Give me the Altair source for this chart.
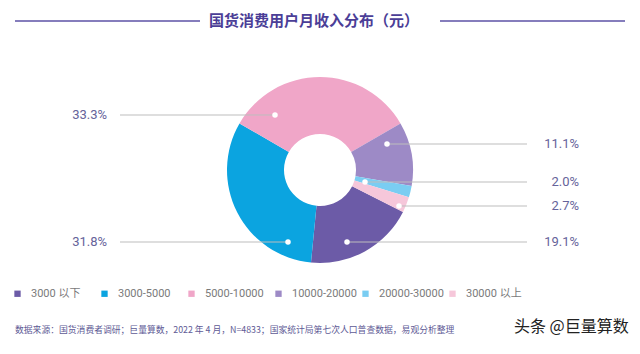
import math
import altair as alt
import pandas as pd

# ---- data ----
categories = ["3000 以下", "3000-5000", "5000-10000", "10000-20000", "20000-30000", "30000 以上"]
shares = [19.1, 31.8, 33.3, 11.1, 2.0, 2.7]
colors = ["#6C5BA7", "#0BA4E0", "#F0A6C8", "#9D8AC6", "#7ACDF2", "#F6C7DA"]

title_text = "国货消费用户月收入分布（元）"
source_text = "数据来源：国货消费者调研；巨量算数，2022 年 4 月，N=4833；国家统计局第七次人口普查数据，易观分析整理"
watermark_text = "头条 @巨量算数"

# ---- layout (annotation placement) ----
label_y = [242, 242, 115, 144, 182, 206]
dot_x = [347, 288, 275, 387, 365, 399]
label_side = ["right", "left", "left", "right", "right", "right"]

W, H = 640, 354
CX, CY = 320, 170
R_OUT, R_IN = 93, 36
START = math.radians(116.8)
FONT = "Roboto, 'Noto Sans CJK SC', sans-serif"
CJK = "'Noto Sans CJK SC', sans-serif"

df = pd.DataFrame({"cat": categories, "share": shares, "idx": list(range(len(categories)))})

ann = pd.DataFrame({
    "cat": categories,
    "label": [f"{s:.1f}%" for s in shares],
    "y": label_y,
    "dx": dot_x,
    "x_end": [527 if s == "right" else 120 for s in label_side],
    "tx": [579 if s == "right" else 107 for s in label_side],
})

xs = alt.Scale(domain=[0, W], range=[0, W], nice=False, zero=False)
ys = alt.Scale(domain=[0, H], range=[0, H], nice=False, zero=False)

arcs = alt.Chart(df).mark_arc(outerRadius=R_OUT, innerRadius=R_IN).encode(
    theta=alt.Theta("share:Q", stack=True,
                    scale=alt.Scale(domain=[0, sum(shares)], range=[START, START + 2 * math.pi])),
    color=alt.Color("cat:N", sort=categories,
                    scale=alt.Scale(domain=categories, range=colors),
                    legend=alt.Legend(title=None, orient="none", legendX=12, legendY=288,
                                      direction="horizontal", columns=6, gridAlign="all",
                                      columnPadding=3, symbolType="square", symbolSize=40,
                                      symbolStrokeWidth=0, symbolOpacity=1,
                                      labelFontSize=11, labelColor="#7a7a7a",
                                      labelFont=FONT, labelOffset=8)),
    order=alt.Order("idx:Q"),
    x=alt.value(CX),
    y=alt.value(CY),
)

rules = alt.Chart(ann).mark_rule(color="#BDBDBD", strokeWidth=1).encode(
    x=alt.X("dx:Q", scale=xs, axis=None),
    x2="x_end:Q",
    y=alt.Y("y:Q", scale=ys, axis=None),
)

dots = alt.Chart(ann).mark_circle(color="white", opacity=1, size=30).encode(
    x=alt.X("dx:Q", scale=xs, axis=None),
    y=alt.Y("y:Q", scale=ys, axis=None),
)

labels = alt.Chart(ann).mark_text(align="right", baseline="middle", fontSize=13,
                                  font=FONT, color="#66639A").encode(
    x=alt.X("tx:Q", scale=xs, axis=None),
    y=alt.Y("y:Q", scale=ys, axis=None),
    text="label:N",
)

title = alt.Chart(pd.DataFrame({"t": [title_text]})).mark_text(
    align="center", baseline="middle", fontSize=15, fontWeight="bold", font=CJK, color="#4B3E97"
).encode(x=alt.value(314), y=alt.value(21), text="t:N")

title_lines = alt.Chart(pd.DataFrame({"a": [15, 440], "b": [200, 625]})).mark_rule(
    color="#5D52A6", strokeWidth=1.5
).encode(x=alt.X("a:Q", scale=xs, axis=None), x2="b:Q", y=alt.value(21))

source = alt.Chart(pd.DataFrame({"t": [source_text]})).mark_text(
    align="left", baseline="middle", fontSize=8.8, font=CJK, color="#5E5A95"
).encode(x=alt.value(15), y=alt.value(330), text="t:N")

watermark = alt.Chart(pd.DataFrame({"t": [watermark_text]})).mark_text(
    align="left", baseline="middle", fontSize=16, font=CJK, color="#222222"
).encode(x=alt.value(514), y=alt.value(327), text="t:N")

chart = alt.layer(arcs, rules, dots, labels, title_lines, title, source, watermark).properties(
    width=W, height=H, autosize=alt.AutoSizeParams(type="none"), padding=0
).configure_view(stroke=None)

chart.save("out.html", embed_options={"renderer": "svg", "actions": False})
